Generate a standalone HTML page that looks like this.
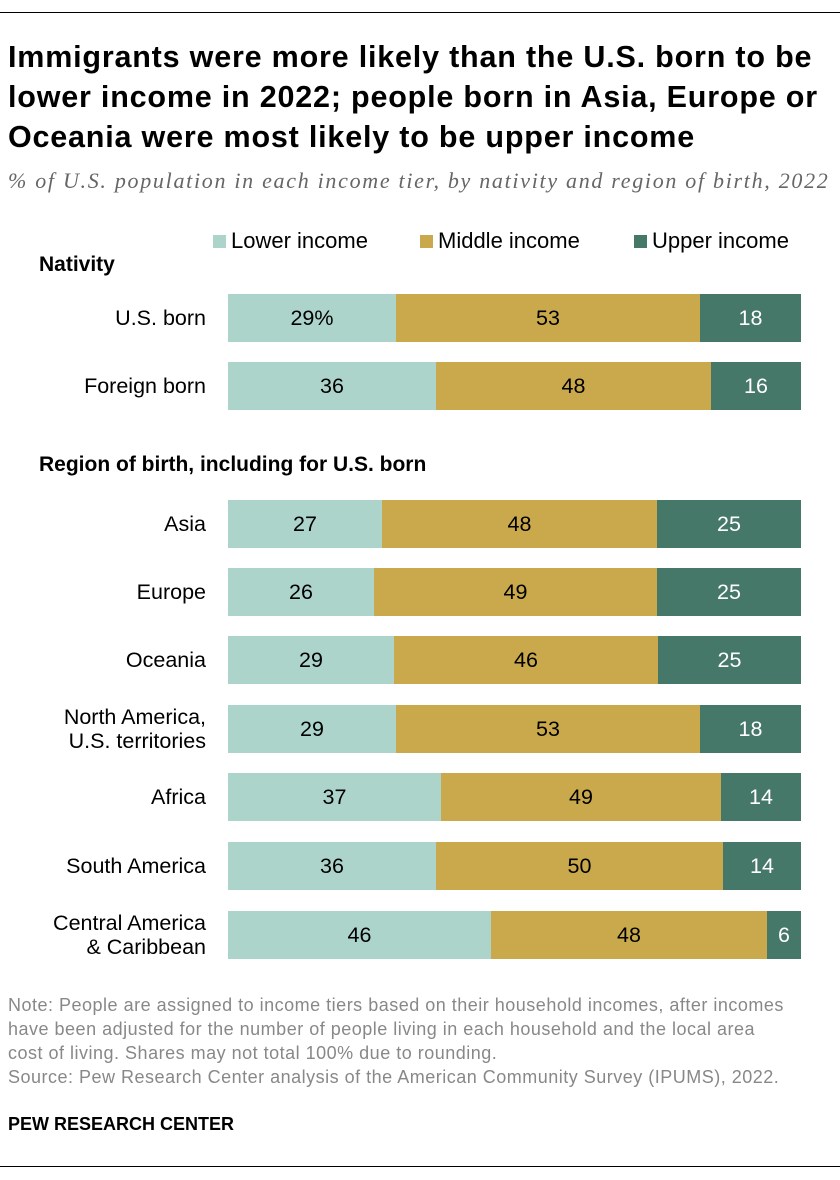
<!DOCTYPE html>
<html><head><meta charset="utf-8"><style>
body{margin:0;width:840px;height:1180px;background:#fff;position:relative;font-family:"Liberation Sans",sans-serif;color:#000;overflow:hidden}
.rule{position:absolute;left:0;width:840px;height:1px;background:#000}
.t{position:absolute;left:8px;top:37px;font-size:30.5px;font-weight:bold;line-height:40px;width:825px;letter-spacing:0.8px}
.sub{position:absolute;left:8px;top:168px;font-family:"Liberation Serif",serif;font-style:italic;font-size:22px;color:#666;letter-spacing:1.7px;white-space:nowrap}
.leg{position:absolute;top:228px;font-size:22px;display:flex;align-items:center}
.leg i{display:inline-block;width:13px;height:13px;margin-right:5px}
.h{position:absolute;left:39px;font-weight:bold;font-size:21px}
.lab{position:absolute;right:634px;text-align:right;font-size:21.5px;line-height:24px}
.bar{position:absolute;left:228px;width:573px;height:48px;display:flex}
.bar div{display:flex;align-items:center;justify-content:center;font-size:21.5px}
.a{background:#acd4ca}.b{background:#c9a94b}.c{background:#46786a;color:#fff}
.note{position:absolute;left:8px;top:993px;font-size:18px;color:#888;line-height:24px;width:830px;letter-spacing:0.5px}
.pew{position:absolute;left:8px;top:1114px;font-weight:bold;font-size:18px}
</style></head><body>
<div class="rule" style="top:12px"></div>
<div class="t">Immigrants were more likely than the U.S. born to be lower income in 2022; people born in Asia, Europe or Oceania were most likely to be upper income</div>
<div class="sub">% of U.S. population in each income tier, by nativity and region of birth, 2022</div>
<div class="leg" style="left:213px"><i class="a"></i>Lower income</div>
<div class="leg" style="left:420px"><i class="b"></i>Middle income</div>
<div class="leg" style="left:634px"><i class="c"></i>Upper income</div>
<div class="h" style="top:253px">Nativity</div>
<div class="h" style="top:453px">Region of birth, including for U.S. born</div>

<div class="lab" style="top:306px">U.S. born</div>
<div class="bar" style="top:294px"><div class="a" style="width:168px">29%</div><div class="b" style="width:304px">53</div><div class="c" style="width:101px">18</div></div>
<div class="lab" style="top:374px">Foreign born</div>
<div class="bar" style="top:362px"><div class="a" style="width:208px">36</div><div class="b" style="width:275px">48</div><div class="c" style="width:90px">16</div></div>

<div class="lab" style="top:512px">Asia</div>
<div class="bar" style="top:500px"><div class="a" style="width:154px">27</div><div class="b" style="width:275px">48</div><div class="c" style="width:144px">25</div></div>
<div class="lab" style="top:580px">Europe</div>
<div class="bar" style="top:568px"><div class="a" style="width:146px">26</div><div class="b" style="width:283px">49</div><div class="c" style="width:144px">25</div></div>
<div class="lab" style="top:648px">Oceania</div>
<div class="bar" style="top:636px"><div class="a" style="width:166px">29</div><div class="b" style="width:264px">46</div><div class="c" style="width:143px">25</div></div>
<div class="lab" style="top:705px">North America,<br>U.S. territories</div>
<div class="bar" style="top:705px"><div class="a" style="width:168px">29</div><div class="b" style="width:304px">53</div><div class="c" style="width:101px">18</div></div>
<div class="lab" style="top:785px">Africa</div>
<div class="bar" style="top:773px"><div class="a" style="width:213px">37</div><div class="b" style="width:280px">49</div><div class="c" style="width:80px">14</div></div>
<div class="lab" style="top:854px">South America</div>
<div class="bar" style="top:842px"><div class="a" style="width:208px">36</div><div class="b" style="width:287px">50</div><div class="c" style="width:78px">14</div></div>
<div class="lab" style="top:911px">Central America<br>&amp; Caribbean</div>
<div class="bar" style="top:911px"><div class="a" style="width:263px">46</div><div class="b" style="width:276px">48</div><div class="c" style="width:34px">6</div></div>

<div class="note">Note: People are assigned to income tiers based on their household incomes, after incomes<br>have been adjusted for the number of people living in each household and the local area<br>cost of living. Shares may not total 100% due to rounding.<br>Source: Pew Research Center analysis of the American Community Survey (IPUMS), 2022.</div>
<div class="pew">PEW RESEARCH CENTER</div>
<div class="rule" style="top:1166px"></div>
</body></html>
